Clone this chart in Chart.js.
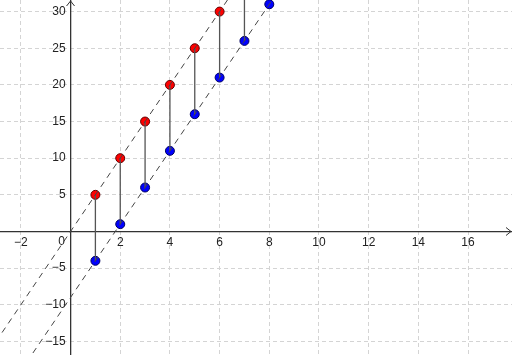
<!DOCTYPE html>
<html>
<head>
<meta charset="utf-8">
<script src="https://cdn.jsdelivr.net/npm/chart.js@4/dist/chart.umd.min.js"></script>
<style>
  html, body { margin: 0; padding: 0; background: #fff; }
  #wrap { width: 512px; height: 355px; position: relative; }
</style>
</head>
<body>
<div id="wrap"><canvas id="mainChart"></canvas></div>
<script>
// du lieu doc tu hinh
const pointX = [1, 2, 3, 4, 5, 6, 7, 8];
const redY = [5, 10, 15, 20, 25, 30, 35];
const blueY = [-4, 1, 6, 11, 16, 21, 26, 31];

// hai duong net dut (hai diem dau cuoi)
const lineX = [-4, 9];
const redLineY = [-20, 45];
const blueLineY = [-29, 36];

const xTicks = [-2, 0, 2, 4, 6, 8, 10, 12, 14, 16];
const yTicks = [-15, -10, -5, 0, 5, 10, 15, 20, 25, 30];

const toPts = (xs, ys) => ys.map((y, i) => ({ x: xs[i], y: y }));

// doan thang dung noi diem do va diem xanh
const segData = [];
redY.forEach((y, i) => {
    segData.push({ x: pointX[i], y: y });
    segData.push({ x: pointX[i], y: blueY[i] });
    segData.push({ x: pointX[i], y: null });
});

const fmt = v => (v < 0 ? '\u2212' + Math.abs(v) : String(v));

// day nhan truc y sang trai mot chut (truc dat tai x = 0)
const yLabelShift = {
    id: 'yLabelShift',
    beforeDraw(chart) {
        const items = chart.scales.y.getLabelItems(chart.chartArea);
        items.forEach(it => { it.options.translation[0] -= 5; });
    }
};

// ve mui ten tren truc + nhan "0"
const axisDeco = {
    id: 'axisDeco',
    afterDraw(chart) {
        const { ctx, scales: { x, y } } = chart;
        const ox = x.getPixelForValue(0);
        const oy = y.getPixelForValue(0);
        ctx.save();
        ctx.strokeStyle = '#333';
        ctx.lineWidth = 1;
        ctx.beginPath();
        ctx.moveTo(chart.chartArea.right - 6, oy - 4);
        ctx.lineTo(chart.chartArea.right - 1, oy);
        ctx.lineTo(chart.chartArea.right - 6, oy + 4);
        ctx.moveTo(ox - 4, chart.chartArea.top + 6);
        ctx.lineTo(ox, chart.chartArea.top + 1);
        ctx.lineTo(ox + 4, chart.chartArea.top + 6);
        ctx.stroke();
        ctx.fillStyle = '#222';
        ctx.font = '12px "Liberation Sans", Arial, sans-serif';
        ctx.textAlign = 'center';
        ctx.textBaseline = 'middle';
        ctx.fillText('0', ox - 9, oy + 10);
        ctx.restore();
    }
};

function axisOpts(min, max, step, ticksList, posKey, isX) {
    return {
        type: 'linear',
        min: min,
        max: max,
        position: posKey,
        afterFit: s => {
            if (isX) s.height = 0; else s.width = 0;
            s.paddingLeft = s.paddingRight = s.paddingTop = s.paddingBottom = 0;
        },
        afterBuildTicks: s => { s.ticks = ticksList.map(v => ({ value: v })); },
        grid: { color: '#d4d4d4', lineWidth: 1, drawTicks: false },
        border: { display: true, color: '#333', width: 1.3, dash: [4, 3] },
        ticks: {
            stepSize: step,
            includeBounds: false,
            padding: 4,
            color: '#222',
            font: { family: '"Liberation Sans", Arial, sans-serif', size: 12 },
            callback: v => (v === 0 ? '' : fmt(v))
        }
    };
}

const ctx = document.getElementById('mainChart').getContext('2d');
new Chart(ctx, {
    type: 'scatter',
    data: {
        datasets: [
            {
                type: 'line', data: toPts(lineX, redLineY),
                borderColor: '#444', borderWidth: 1, borderDash: [6, 5],
                pointRadius: 0, fill: false
            },
            {
                type: 'line', data: toPts(lineX, blueLineY),
                borderColor: '#444', borderWidth: 1, borderDash: [6, 5],
                pointRadius: 0, fill: false
            },
            {
                type: 'line', data: segData, spanGaps: false,
                borderColor: '#555', borderWidth: 1.3,
                pointRadius: 0, fill: false
            },
            {
                data: toPts(pointX, redY),
                backgroundColor: '#ff0000', borderColor: '#600000', borderWidth: 1,
                pointRadius: 4.5
            },
            {
                data: toPts(pointX, blueY),
                backgroundColor: '#0000ff', borderColor: '#000060', borderWidth: 1,
                pointRadius: 4.5
            }
        ]
    },
    options: {
        responsive: true,
        maintainAspectRatio: false,
        animation: false,
        layout: { padding: 0, autoPadding: false },
        plugins: { legend: { display: false }, tooltip: { enabled: false } },
        scales: {
            x: axisOpts(-2.84, 17.77, 2, xTicks, { y: 0 }, true),
            y: axisOpts(-16.85, 31.58, 5, yTicks, { x: 0 }, false)
        }
    },
    plugins: [yLabelShift, axisDeco]
});
</script>
</body>
</html>
